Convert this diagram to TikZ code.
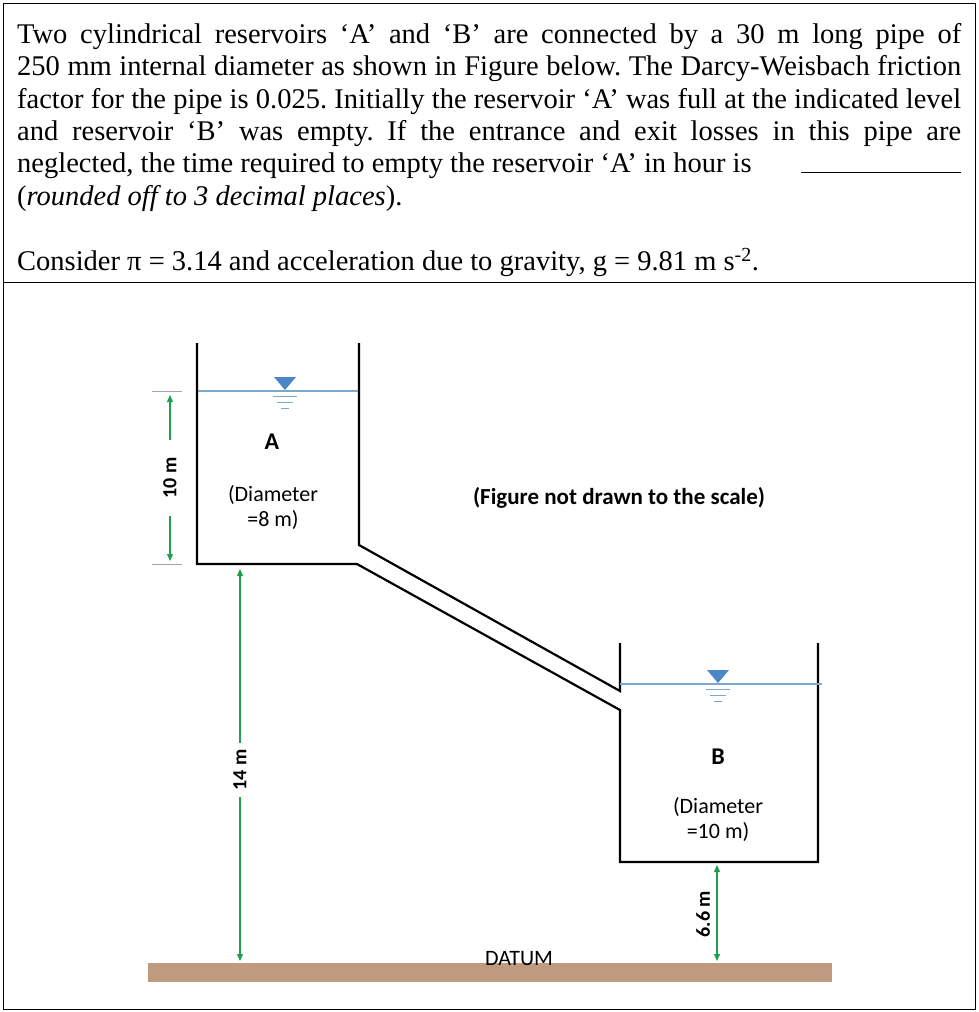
\documentclass[tikz,border=0pt]{standalone}
\usepackage{fontspec}
\setmainfont{Liberation Serif}
\newfontfamily\carfont{Carlito}
\usetikzlibrary{arrows.meta}
\definecolor{grn}{HTML}{1FA050}
\definecolor{wat}{HTML}{7FA8C8}
\definecolor{tri}{HTML}{4A86C8}
\definecolor{soil}{HTML}{BF9A7E}
\frenchspacing
\begin{document}
\begin{tikzpicture}[x=1pt,y=-1pt,
  wall/.style={line width=2.2pt},
  dim/.style={grn,line width=1.2pt,-{Triangle[length=7pt,width=6pt]}},
  tick/.style={gray!70,line width=0.6pt},
  lab/.style={font=\carfont\fontsize{22}{25}\selectfont,align=center},
  blab/.style={font=\carfont\bfseries\fontsize{20}{23}\selectfont,rotate=90},
  wline/.style={wat,line width=1.2pt}]
\useasboundingbox (0,0) rectangle (978,1012);
\draw[line width=1pt] (3,3) rectangle (975,1009);
\draw[line width=1pt] (3,282) -- (975,282);
\node[anchor=north west,inner sep=0pt,text width=944pt,align=justify,font=\fontsize{28.5}{32.4}\selectfont] (q) at (17,23)
{\frenchspacing Two cylindrical reservoirs ‘A’ and ‘B’ are connected by a 30 m long pipe of\linebreak
250 mm internal diameter as shown in Figure below. The Darcy-Weisbach friction\linebreak
factor for the pipe is 0.025. Initially the reservoir ‘A’ was full at the indicated level\linebreak
and reservoir ‘B’ was empty. If the entrance and exit losses in this pipe are\linebreak
neglected, the time required to empty the reservoir ‘A’ in hour is \hfill\rule{160pt}{0.6pt}\newline
(\textit{rounded off to 3 decimal places}).\par\vspace{33pt}
\raggedright Consider π = 3.14 and acceleration due to gravity, g = 9.81 m s\textsuperscript{-2}.};
% ground
\fill[soil] (148,963) rectangle (832,982);
\node[lab,anchor=base] (datum) at (519,965) {DATUM};
% tanks and pipe
\draw[wline] (197,391) -- (359,391);
\draw[wall] (197,343) -- (197,564) -- (357,564) -- (620,710) -- (620,862) -- (818,862) -- (818,643);
\draw[wall] (359,343) -- (359,545) -- (620,691) -- (620,643);
\draw[wline] (620,684) -- (822,684);
% water symbols
\foreach \x/\y in {285/391,718/684}{
  \fill[tri] (\x-11,\y-14) -- (\x+11,\y-14) -- (\x,\y-1) -- cycle;
  \draw[wat,line width=1pt] (\x-12,\y+5) -- (\x+12,\y+5) (\x-8,\y+11) -- (\x+8,\y+11) (\x-4,\y+17)--(\x+4,\y+17);
}
\node[lab,font=\carfont\bfseries\fontsize{24}{25}\selectfont] (A) at (272,442) {A};
\node[lab] (dA) at (273,507) {(Diameter\\=8 m)};
\node[lab,font=\carfont\bfseries\fontsize{24}{25}\selectfont] (B) at (718,757) {B};
\node[lab] (dB) at (718,819) {(Diameter\\=10 m)};
\node[lab,font=\carfont\bfseries\fontsize{23}{25}\selectfont] (note) at (619,498) {(Figure not drawn to the scale)};
% dimensions
\draw[tick] (152,391) -- (182,391) (152,564) -- (182,564);
\node[blab] (t10) at (170,478) {10 m};
\draw[dim] (170,440) -- (170,395);
\draw[dim] (170,516) -- (170,561);
\node[blab] (t14) at (240,770) {14 m};
\draw[dim] (240,743) -- (240,569);
\draw[dim] (240,797) -- (240,961);
\draw[dim,{Triangle[length=7pt,width=6pt]}-{Triangle[length=7pt,width=6pt]}] (717,865) -- (717,961);
\node[blab] (t66) at (703,914) {6.6 m};
\end{tikzpicture}
\end{document}
